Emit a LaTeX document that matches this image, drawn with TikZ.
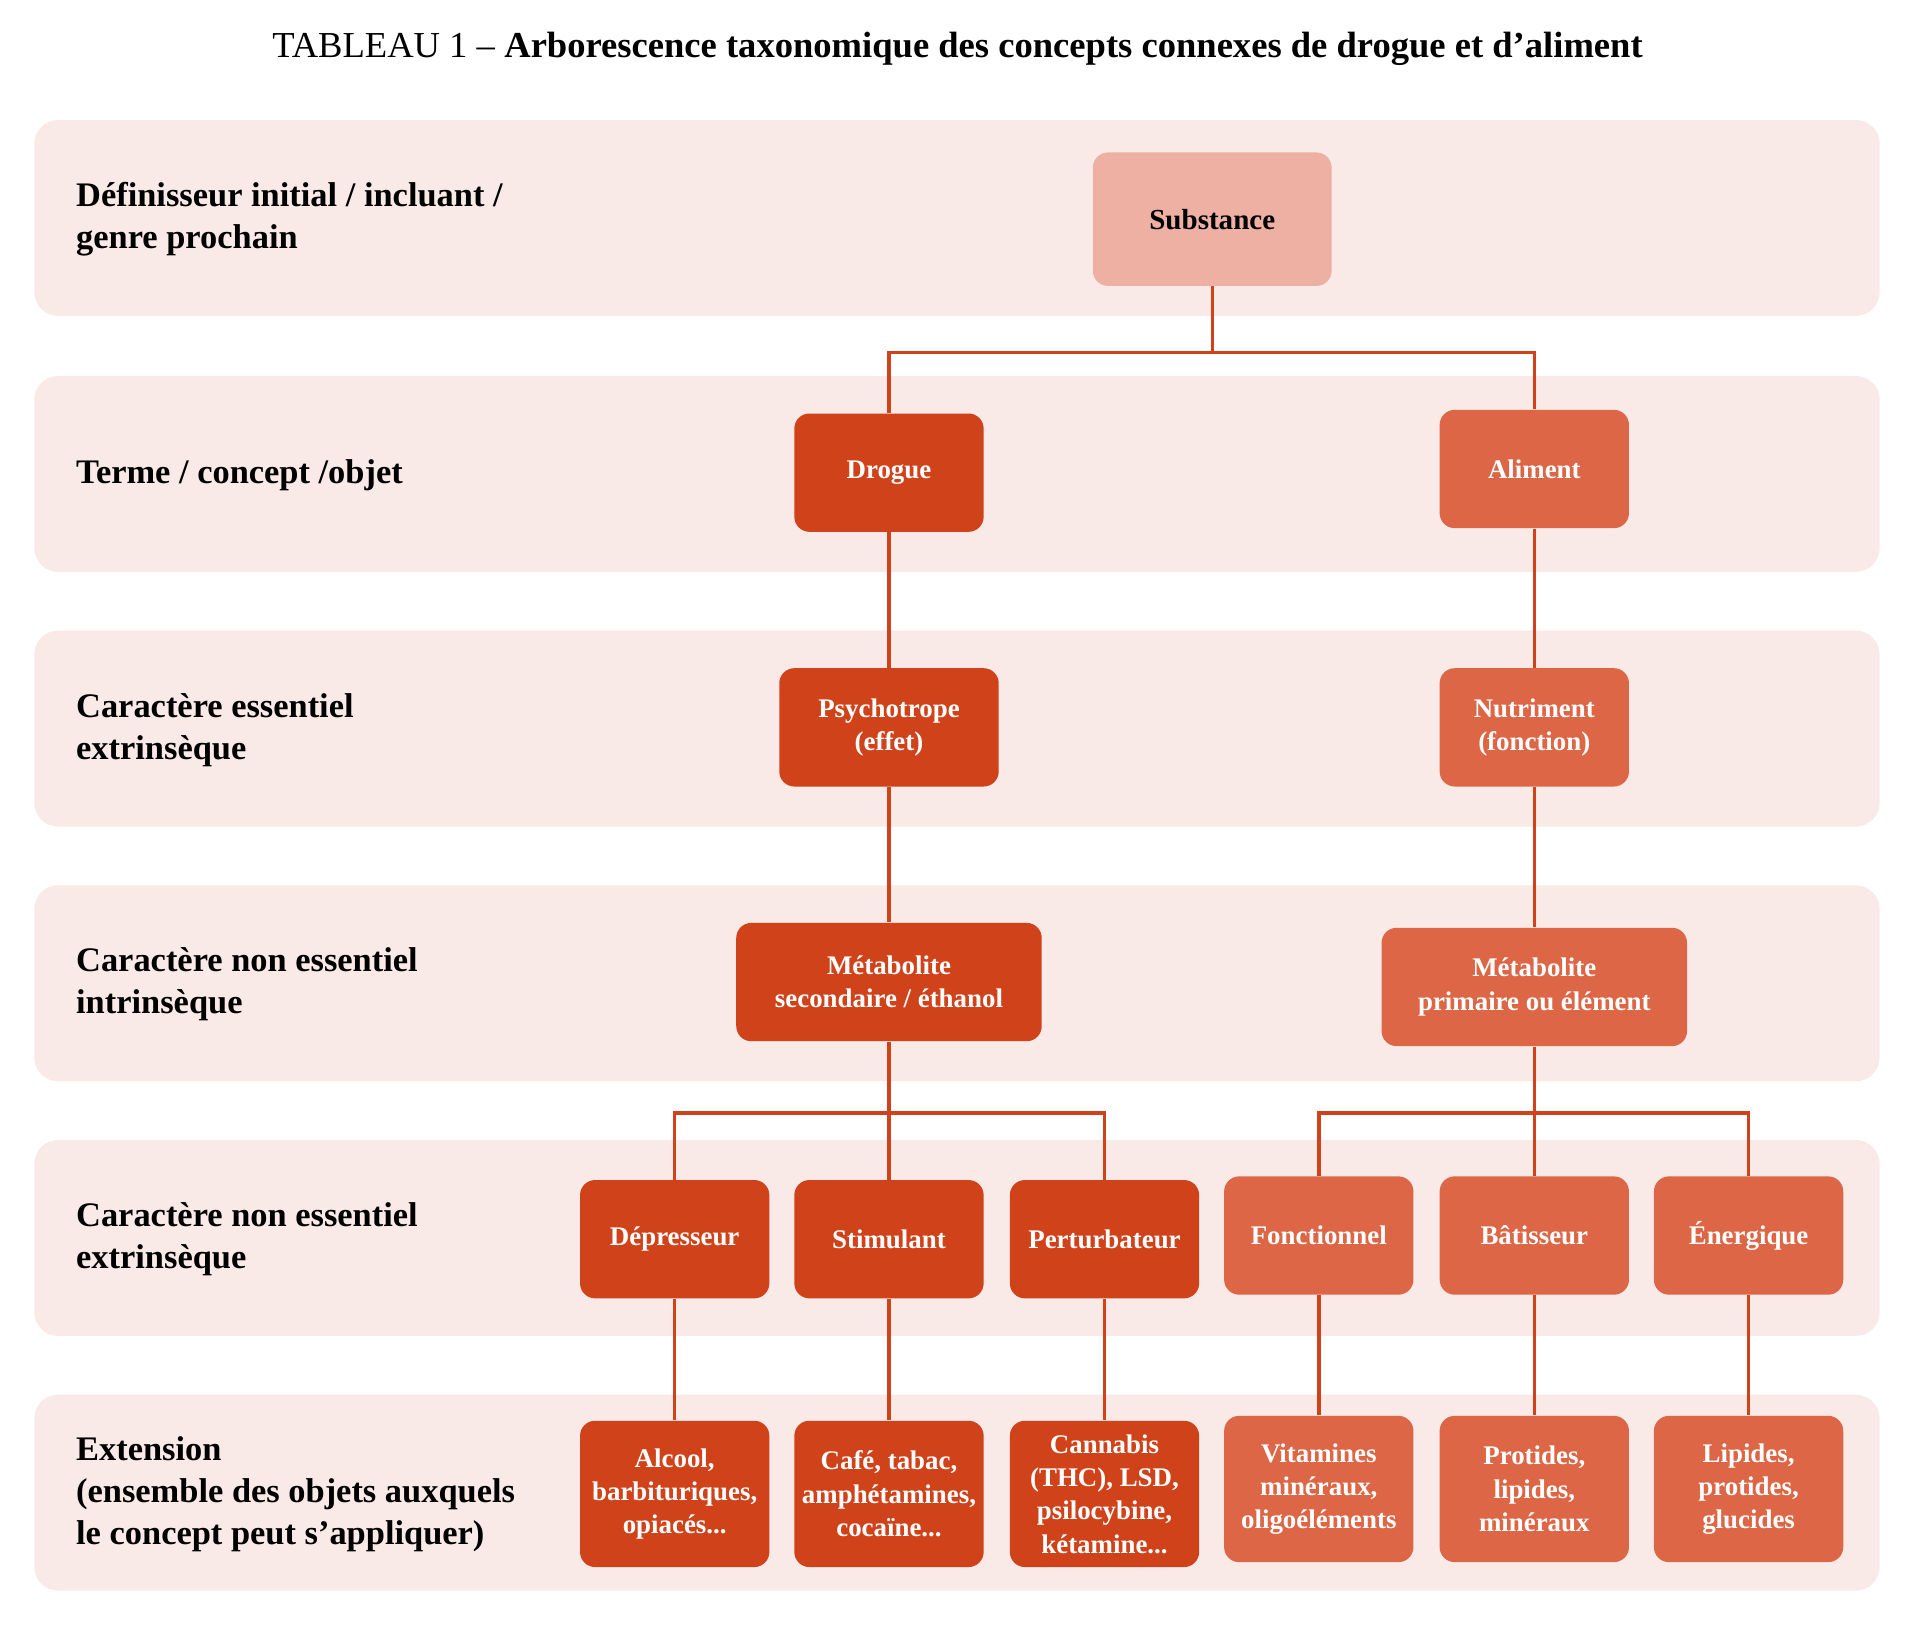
\documentclass[tikz,border=0pt]{standalone}
\usepackage{fontspec}
\setmainfont{Liberation Serif}
\usetikzlibrary{positioning}
\definecolor{band}{HTML}{F9EAE7}
\definecolor{dark}{HTML}{D0421A}
\definecolor{light}{HTML}{DC6645}
\definecolor{pale}{HTML}{EDB0A2}
\tikzset{
  band/.style={fill=band, rounded corners=11pt, draw=none},
  rowlbl/.style={anchor=west, align=left, font=\bfseries\fontsize{16}{19.5}\selectfont},
  dbox/.style={fill=dark, text=white, rounded corners=7pt, align=center, minimum width=88pt, minimum height=55pt, font=\bfseries\fontsize{12.5}{15.5}\selectfont},
  abox/.style={dbox, fill=light},
  conn/.style={draw=dark, line width=1.6pt}
}
\begin{document}
\begin{tikzpicture}[x=0.02cm, y=-0.02cm]
\useasboundingbox (0,0) rectangle (1568,1346);
\node (title) at (782,40) {\fontsize{17}{20}\selectfont TABLEAU 1 -- \textbf{Arborescence taxonomique des concepts connexes de drogue et d’aliment}};
% bands
\foreach \y in {98,307,515,723,931,1139}
  \fill[band] (28,\y) rectangle (1535,\y+160);
\node[rowlbl] (l1) at (56,179) {Définisseur initial / incluant /\\genre prochain};
\node[rowlbl] (l2) at (56,388) {Terme / concept /objet};
\node[rowlbl] (l3) at (56,596) {Caractère essentiel\\extrinsèque};
\node[rowlbl] (l4) at (56,804) {Caractère non essentiel\\intrinsèque};
\node[rowlbl] (l5) at (56,1012) {Caractère non essentiel\\extrinsèque};
\node[rowlbl] (l6) at (56,1220) {Extension\\(ensemble des objets auxquels\\le concept peut s’appliquer)};
% nodes
\node[dbox, fill=pale, text=black, minimum width=111pt, minimum height=62pt, font=\bfseries\fontsize{13.5}{16}\selectfont] (subst) at (990,179) {Substance};
\node[dbox] (drogue) at (726,386) {Drogue};
\node[abox] (aliment) at (1253,383) {Aliment};
\node[dbox, minimum width=102pt] (psycho) at (726,594) {Psychotrope\\(effet)};
\node[abox] (nutri) at (1253,594) {Nutriment\\(fonction)};
\node[dbox, minimum width=142pt] (msec) at (726,802) {Métabolite\\secondaire / éthanol};
\node[abox, minimum width=142pt] (mprim) at (1253,806) {Métabolite\\primaire ou élément};
\node[dbox] (depr) at (551,1012) {Dépresseur};
\node[dbox] (stim) at (726,1012) {Stimulant};
\node[dbox] (pert) at (902,1012) {Perturbateur};
\node[abox] (fonc) at (1077,1009) {Fonctionnel};
\node[abox] (bati) at (1253,1009) {Bâtisseur};
\node[abox] (ener) at (1428,1009) {Énergique};
\node[dbox, minimum height=68pt] (alco) at (551,1220) {Alcool,\\barbituriques,\\opiacés...};
\node[dbox, minimum height=68pt] (cafe) at (726,1220) {Café, tabac,\\amphétamines,\\cocaïne...};
\node[dbox, minimum height=68pt] (cann) at (902,1220) {Cannabis\\(THC), LSD,\\psilocybine,\\kétamine...};
\node[abox, minimum height=68pt] (vita) at (1077,1216) {Vitamines\\minéraux,\\oligoéléments};
\node[abox, minimum height=68pt] (prot) at (1253,1216) {Protides,\\lipides,\\minéraux};
\node[abox, minimum height=68pt] (lipi) at (1428,1216) {Lipides,\\protides,\\glucides};
% connectors
\coordinate (j1) at (990,288);
\coordinate (j2) at (726,909);
\coordinate (j3) at (1253,909);
\draw[conn] (subst) -- (j1);
\draw[conn] (drogue.north) |- (j1) -| (aliment.north);
\draw[conn] (drogue) -- (psycho);
\draw[conn] (psycho) -- (msec);
\draw[conn] (aliment) -- (nutri);
\draw[conn] (nutri) -- (mprim);
\draw[conn] (msec) -- (stim);
\draw[conn] (depr.north) |- (j2) -| (pert.north);
\draw[conn] (mprim) -- (bati);
\draw[conn] (fonc.north) |- (j3) -| (ener.north);
\draw[conn] (depr) -- (alco);
\draw[conn] (stim) -- (cafe);
\draw[conn] (pert) -- (cann);
\draw[conn] (fonc) -- (vita);
\draw[conn] (bati) -- (prot);
\draw[conn] (ener) -- (lipi);
\end{tikzpicture}
\end{document}
